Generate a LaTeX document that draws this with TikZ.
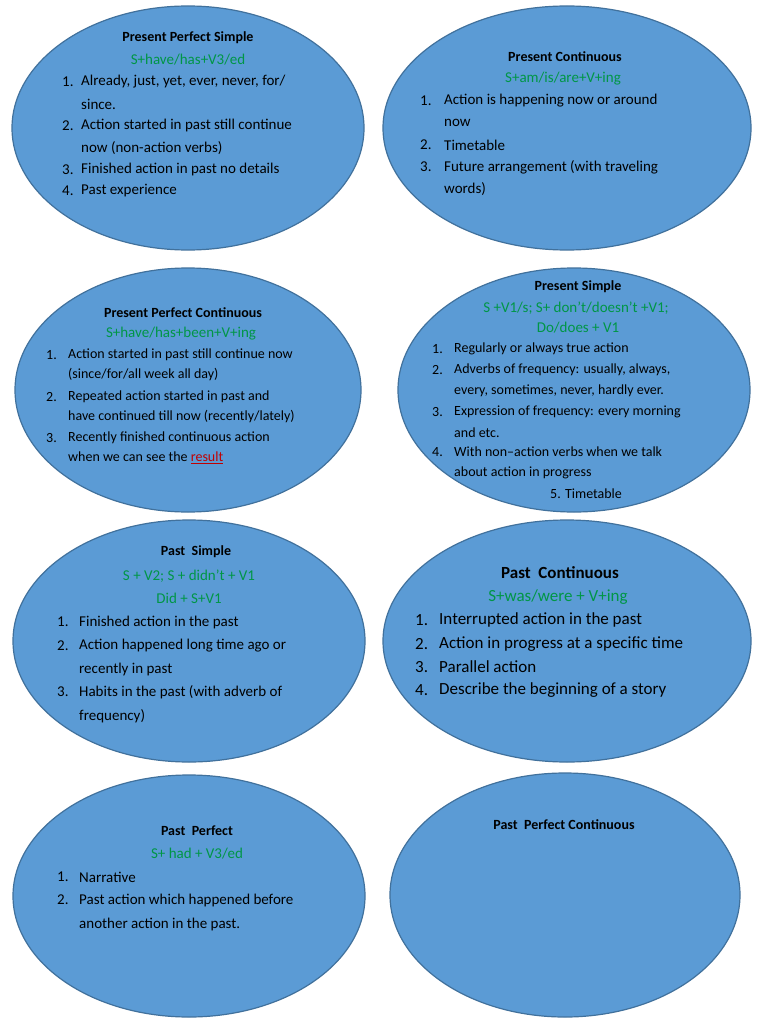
\documentclass[tikz,border=0pt]{standalone}
\usepackage{fontspec}
\setmainfont{Carlito}
\definecolor{fillb}{RGB}{91,155,213}
\definecolor{edgeb}{RGB}{65,113,156}
\definecolor{grn}{RGB}{0,150,70}
\definecolor{redu}{RGB}{192,0,0}
\begin{document}
\begin{tikzpicture}[x=1pt,y=-1pt,
  ell/.style={draw=edgeb,fill=fillb,line width=1.2pt},
  ttl/.style={font=\fontsize{14}{16}\selectfont\bfseries,inner sep=0pt},
  gr/.style={text=grn,font=\fontsize{15}{17}\selectfont,inner sep=0pt},
  tx/.style={anchor=west,font=\fontsize{15}{17}\selectfont,inner sep=0pt},
  sm/.style={anchor=west,font=\fontsize{14}{16}\selectfont,inner sep=0pt},
  bg/.style={anchor=west,font=\fontsize{17}{19}\selectfont,inner sep=0pt}]
\useasboundingbox (0,0) rectangle (768,1024);
\fill[white] (0,0) rectangle (768,1024);
\draw[ell] (188,128) ellipse [x radius=176,y radius=122];
\draw[ell] (567,128) ellipse [x radius=184,y radius=122];
\draw[ell] (188,390) ellipse [x radius=173,y radius=122];
\draw[ell] (574,390) ellipse [x radius=176,y radius=122];
\draw[ell] (189,641) ellipse [x radius=176,y radius=121];
\draw[ell] (567,641) ellipse [x radius=184,y radius=121];
\draw[ell] (189,896) ellipse [x radius=176,y radius=121];
\draw[ell] (565,895) ellipse [x radius=175,y radius=122];
% 1
\node[ttl] (t1) at (188,38) {Present Perfect Simple};
\node[gr] (g1) at (188,60) {S+have/has+V3/ed};
\node[tx] (a1) at (62,82) {1.}; \node[tx] (b1) at (81,82) {Already, just, yet, ever, never, for/};
\node[tx] (b1b) at (81,104) {since.};
\node[tx] (a2) at (62,126) {2.}; \node[tx] (b2) at (81,126) {Action started in past still continue};
\node[tx] (b2b) at (81,148) {now (non-action verbs)};
\node[tx] (a3) at (62,170) {3.}; \node[tx] (b3) at (81,170) {Finished action in past no details};
\node[tx] (a4) at (62,191) {4.}; \node[tx] (b4) at (81,191) {Past experience};
% 2
\node[ttl] (t2) at (565,57) {Present Continuous};
\node[gr] (g2) at (563,79) {S+am/is/are+V+ing};
\node[tx] (c1) at (420,101) {1.}; \node[tx] (d1) at (444,101) {Action is happening now or around};
\node[tx] (d1b) at (444,123) {now};
\node[tx] (c2) at (420,145) {2.}; \node[tx] (d2) at (444,145) {Timetable};
\node[tx] (c3) at (420,167) {3.}; \node[tx] (d3) at (444,167) {Future arrangement (with traveling};
\node[tx] (d3b) at (444,189) {words)};
% 3
\node[ttl] (t3) at (183,313) {Present Perfect Continuous};
\node[gr] (g3) at (181,334) {S+have/has+been+V+ing};
\node[sm] (e1) at (46,355) {1.}; \node[sm] (f1) at (68,355) {Action started in past still continue now};
\node[sm] (f1b) at (68,375) {(since/for/all week all day)};
\node[sm] (e2) at (46,397) {2.}; \node[sm] (f2) at (68,397) {Repeated action started in past and};
\node[sm] (f2b) at (68,417) {have continued till now (recently/lately)};
\node[sm] (e3) at (46,438) {3.}; \node[sm] (f3) at (68,438) {Recently finished continuous action};
\node[sm] (f3b) at (68,458) {when we can see the \textcolor{redu}{\underline{result}}};
% 4
\node[ttl] (t4) at (578,287) {Present Simple};
\node[gr] (g4) at (576,308) {S +V1/s; S+ don’t/doesn’t +V1;};
\node[gr] (g4b) at (578,328) {Do/does + V1};
\node[sm] (h1) at (432,349) {1.}; \node[sm] (i1) at (454,349) {Regularly or always true action};
\node[sm] (h2) at (432,370) {2.}; \node[sm] (i2) at (454,370) {Adverbs of frequency: usually, always,};
\node[sm] (i2b) at (454,391) {every, sometimes, never, hardly ever.};
\node[sm] (h3) at (432,412) {3.}; \node[sm] (i3) at (454,412) {Expression of frequency: every morning};
\node[sm] (i3b) at (454,433) {and etc.};
\node[sm] (h4) at (432,452) {4.}; \node[sm] (i4) at (454,452) {With non–action verbs when we talk};
\node[sm] (i4b) at (454,473) {about action in progress};
\node[sm] (i5) at (550,494) {5. Timetable};
% 5
\node[ttl] (t5) at (196,552) {Past\ \ Simple};
\node[gr] (g5) at (189,576) {S + V2; S + didn’t + V1};
\node[gr] (g5b) at (189,598) {Did + S+V1};
\node[tx] (j1) at (57,622) {1.}; \node[tx] (k1) at (79,622) {Finished action in the past};
\node[tx] (j2) at (57,646) {2.}; \node[tx] (k2) at (79,646) {Action happened long time ago or};
\node[tx] (k2b) at (79,669) {recently in past};
\node[tx] (j3) at (57,692) {3.}; \node[tx] (k3) at (79,692) {Habits in the past (with adverb of};
\node[tx] (k3b) at (79,716) {frequency)};
% 6
\node[ttl,font=\fontsize{17}{19}\selectfont\bfseries] (t6) at (560,573) {Past\ \ Continuous};
\node[gr,font=\fontsize{17}{19}\selectfont] (g6) at (558,597) {S+was/were + V+ing};
\node[bg] (l1) at (415,620) {1.}; \node[bg] (m1) at (439,620) {Interrupted action in the past};
\node[bg] (l2) at (415,644) {2.}; \node[bg] (m2) at (439,644) {Action in progress at a specific time};
\node[bg] (l3) at (415,667) {3.}; \node[bg] (m3) at (439,667) {Parallel action};
\node[bg] (l4) at (415,690) {4.}; \node[bg] (m4) at (439,690) {Describe the beginning of a story};
% 7
\node[ttl] (t7) at (197,831) {Past\ \ Perfect};
\node[gr] (g7) at (197,854) {S+ had + V3/ed};
\node[tx] (n1) at (57,877) {1.}; \node[tx] (o1) at (79,877) {Narrative};
\node[tx] (n2) at (57,900) {2.}; \node[tx] (o2) at (79,900) {Past action which happened before};
\node[tx] (o2b) at (79,924) {another action in the past.};
% 8
\node[ttl] (t8) at (564,825) {Past\ \ Perfect Continuous};
\end{tikzpicture}
\end{document}
